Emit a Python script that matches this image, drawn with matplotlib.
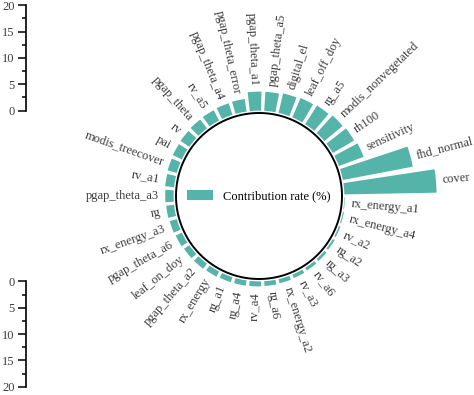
import numpy as np
import matplotlib
matplotlib.use("Agg")
import matplotlib.pyplot as plt

plt.rcParams['font.family'] = ['Liberation Serif', 'DejaVu Serif']

# Variables, sorted by contribution (counter-clockwise from 0 degrees)
features = ["cover", "fhd_normal", "sensitivity", "rh100", "modis_nonvegetated",
            "rg_a5", "leaf_off_doy", "digital_el", "pgap_theta_a5", "pgap_theta_a1",
            "pgap_theta_error", "pgap_theta_a4", "rv_a5", "pgap_theta", "rv", "pai",
            "modis_treecover", "rv_a1", "pgap_theta_a3", "rg", "rx_energy_a3",
            "pgap_theta_a6", "leaf_on_doy", "pgap_theta_a2", "rx_energy", "rg_a1",
            "rg_a4", "rv_a4", "rg_a6", "rx_energy_a2", "rv_a3", "rv_a6", "rg_a3",
            "rg_a2", "rv_a2", "rx_energy_a4", "rx_energy_a1"]
contribution = [17.5, 13.5, 5.0, 4.7, 4.5,
                4.2, 4.0, 3.8, 3.6, 3.6,
                2.4, 2.3, 2.2, 2.1, 2.0, 1.9,
                1.8, 1.7, 1.6, 1.5, 1.4,
                1.3, 1.2, 1.2, 1.1, 1.0,
                1.0, 0.95, 0.9, 0.8, 0.7, 0.6, 0.5,
                0.4, 0.3, 0.2, 0.1]

teal = "#55b4a9"
text_col = "#3c3c3c"

W, H = 474, 395
px_per_unit = 5.27      # pixels for one % of contribution
base = 16.2             # inner radius where the bars start
rmax = 35.0
cx, cy = 259, 196       # circle centre in pixels (from top-left)

fig = plt.figure(figsize=(W / 100, H / 100), dpi=100)

# polar axes sized so that one unit is px_per_unit pixels
half = rmax * px_per_unit
ax = fig.add_axes([(cx - half) / W, 1 - (cy + half) / H, 2 * half / W, 2 * half / H],
                  projection="polar")
ax.set_ylim(0, rmax)
ax.axis("off")

n = len(features)
step = 2 * np.pi / n
theta = (np.arange(n) + 0.5) * step
ax.bar(theta, contribution, width=step * 0.78, bottom=base, color=teal,
       edgecolor="none", label="Contribution rate (%)")

# black inner circle
t = np.linspace(0, 2 * np.pi, 400)
ax.plot(t, np.full_like(t, base - 0.45), color="black", lw=1.4)

# labels around the bars
for th, val, name in zip(theta, contribution, features):
    deg = np.degrees(th)
    r = base + val + 1.2
    if 90 < deg < 270:
        ax.text(th, r, name, rotation=deg - 180, rotation_mode="anchor",
                ha="right", va="center", fontsize=9, color=text_col)
    else:
        ax.text(th, r, name, rotation=deg, rotation_mode="anchor",
                ha="left", va="center", fontsize=9, color=text_col)

ax.legend(loc="center", frameon=False, fontsize=9, handlelength=2.1,
          handleheight=0.9, bbox_to_anchor=(0.5, 0.5))

# scale axes on the left (top: upward, bottom: downward)
span = 20 * px_per_unit
x0 = 26
top0 = cy - base * px_per_unit
bot0 = cy + base * px_per_unit
for y_zero, flip in [(top0, False), (bot0, True)]:
    if flip:
        rect = [x0 / W, 1 - (y_zero + span) / H, 0.05, span / H]
    else:
        rect = [x0 / W, 1 - y_zero / H, 0.05, span / H]
    sa = fig.add_axes(rect)
    sa.set_ylim((20, 0) if flip else (0, 20))
    sa.set_yticks([0, 5, 10, 15, 20])
    sa.set_yticks(np.arange(0, 20.1, 2.5), minor=True)
    for s in ["top", "right", "bottom"]:
        sa.spines[s].set_visible(False)
    sa.spines["left"].set_linewidth(1.2)
    sa.set_xticks([])
    sa.tick_params(axis="y", which="major", length=6, width=1.1, labelsize=9,
                   labelcolor=text_col, pad=2)
    sa.tick_params(axis="y", which="minor", length=3, width=1.1)
    sa.patch.set_visible(False)

fig.savefig("out.png", dpi=100)
